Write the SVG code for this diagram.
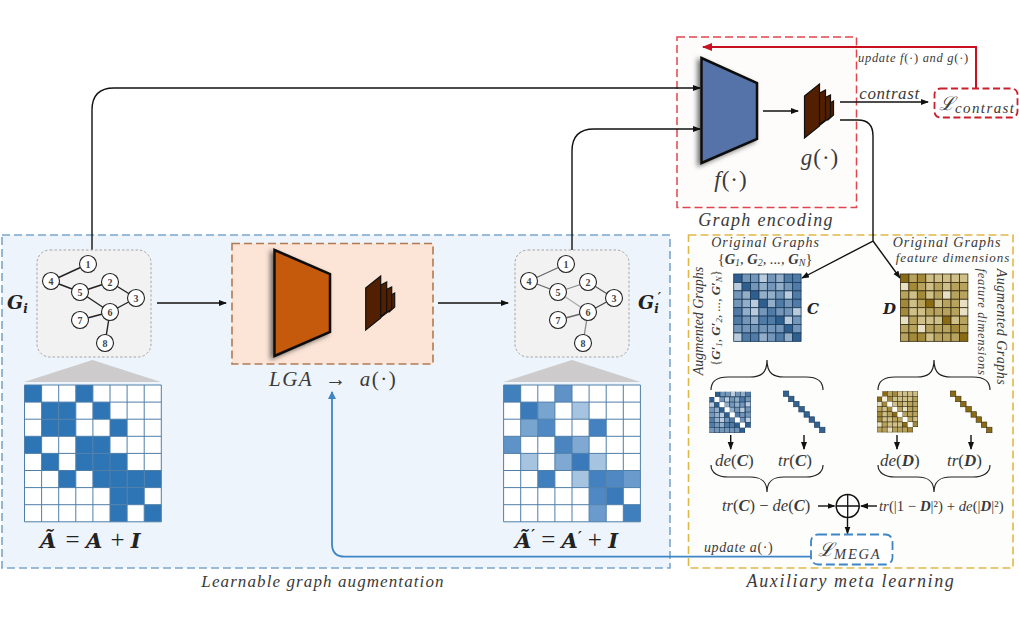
<svg xmlns="http://www.w3.org/2000/svg" xmlns:xlink="http://www.w3.org/1999/xlink" width="1019" height="620" viewBox="0 0 1019 620">
<style>
text{font-family:"Liberation Serif","DejaVu Serif",serif;font-style:italic;fill:#3a3a3a}
.m{text-anchor:middle}
.b{font-family:"DejaVu Serif","Liberation Serif",serif;font-weight:bold;fill:#222}
.o{font-family:"Liberation Serif",serif;font-weight:normal;font-style:normal}
.t{font-style:normal;font-weight:bold;font-size:10px;text-anchor:middle;fill:#444}
.u rect{width:1px;height:1px;stroke-width:.1}
.ln{fill:none;stroke:#111;stroke-width:1.4}
.gbox{fill:#f2f2f2;stroke:#a5a5a5;stroke-width:1;stroke-dasharray:2.5 2}
.n{fill:#fff;stroke:#222;stroke-width:1.1}
.e{stroke:#222;stroke-width:1.4}
.brace{fill:none;stroke:#222;stroke-width:1.2}
.c0{fill:#b9cbdc;stroke:#1d3c5c}.c1{fill:#93aec8;stroke:#1d3c5c}.c2{fill:#7497b9;stroke:#1d3c5c}.c3{fill:#4f7ba6;stroke:#1d3c5c}.c4{fill:#2e5f8f;stroke:#1d3c5c}
.d0{fill:#e8e0c4;stroke:#3d3213}.d1{fill:#cfc08a;stroke:#3d3213}.d2{fill:#b8a35e;stroke:#3d3213}.d3{fill:#a38a3a;stroke:#3d3213}.d4{fill:#8a6a12;stroke:#3d3213}
.a{fill:#2e75b6;stroke:none}
.w{fill:#fff;stroke:none;width:5.1px;height:5.1px}
</style>
<defs>
<marker id="ak" markerWidth="8" markerHeight="7" refX="7" refY="3" orient="auto" markerUnits="userSpaceOnUse"><path d="M0 0L8 3L0 6Z" fill="#111"/></marker>
<marker id="ar" markerWidth="11" markerHeight="8" refX="9" refY="4" orient="auto" markerUnits="userSpaceOnUse"><path d="M0 0L10 4L0 8Z" fill="#c8101e"/></marker>
<marker id="ab" markerWidth="8" markerHeight="8" refX="7" refY="4" orient="auto" markerUnits="userSpaceOnUse"><path d="M0 0L8 4L0 8Z" fill="#3f85c5"/></marker>
<filter id="sh" x="-30%" y="-20%" width="160%" height="140%"><feDropShadow dx="-3" dy="2" stdDeviation="2.5" flood-color="#000" flood-opacity=".55"/></filter>
<clipPath id="cf1"><rect x="709.300" y="397" width="35.700" height="35.700"/></clipPath>
<clipPath id="cb1"><rect x="715" y="391.700" width="35.700" height="35.700"/></clipPath>
<clipPath id="cf2"><rect x="877" y="396.500" width="35.700" height="35.700"/></clipPath>
<clipPath id="cb2"><rect x="882.300" y="391.300" width="35.700" height="35.700"/></clipPath>
<g id="stack" fill="#522000" stroke="#111" stroke-width="1.200">
<polygon points="828,104 833.5,101 833.5,115 828,120"/>
<polygon points="820,100 830.5,95 830.5,117 820,125"/>
<polygon points="812,97 825.5,90 825.5,120 812,130"/>
<polygon points="804.5,96 819.5,84 819.5,126 804.5,138"/>
</g>
<path id="grid" d="M0 0H136.8V136.8H0ZM17.1 0V136.8M34.2 0V136.8M51.3 0V136.8M68.4 0V136.8M85.5 0V136.8M102.6 0V136.8M119.7 0V136.8M0 17.1H136.8M0 34.2H136.8M0 51.3H136.8M0 68.4H136.8M0 85.5H136.8M0 102.6H136.8M0 119.7H136.8" fill="none" stroke="#4f7fa9" stroke-width="1"/>
<g id="mC" class="u">
<rect x="0" y="0" class="c4"/><rect x="1" y="0" class="c2"/><rect x="2" y="0" class="c2"/><rect x="3" y="0" class="c0"/><rect x="4" y="0" class="c2"/><rect x="5" y="0" class="c1"/><rect x="6" y="0" class="c3"/><rect x="7" y="0" class="c3"/>
<rect x="0" y="1" class="c0"/><rect x="1" y="1" class="c4"/><rect x="2" y="1" class="c2"/><rect x="3" y="1" class="c1"/><rect x="4" y="1" class="c2"/><rect x="5" y="1" class="c1"/><rect x="6" y="1" class="c2"/><rect x="7" y="1" class="c3"/>
<rect x="0" y="2" class="c2"/><rect x="1" y="2" class="c1"/><rect x="2" y="2" class="c4"/><rect x="3" y="2" class="c1"/><rect x="4" y="2" class="c1"/><rect x="5" y="2" class="c2"/><rect x="6" y="2" class="c0"/><rect x="7" y="2" class="c3"/>
<rect x="0" y="3" class="c2"/><rect x="1" y="3" class="c1"/><rect x="2" y="3" class="c0"/><rect x="3" y="3" class="c4"/><rect x="4" y="3" class="c1"/><rect x="5" y="3" class="c3"/><rect x="6" y="3" class="c2"/><rect x="7" y="3" class="c3"/>
<rect x="0" y="4" class="c3"/><rect x="1" y="4" class="c1"/><rect x="2" y="4" class="c0"/><rect x="3" y="4" class="c2"/><rect x="4" y="4" class="c3"/><rect x="5" y="4" class="c2"/><rect x="6" y="4" class="c2"/><rect x="7" y="4" class="c0"/>
<rect x="0" y="5" class="c3"/><rect x="1" y="5" class="c2"/><rect x="2" y="5" class="c1"/><rect x="3" y="5" class="c3"/><rect x="4" y="5" class="c3"/><rect x="5" y="5" class="c4"/><rect x="6" y="5" class="c0"/><rect x="7" y="5" class="c2"/>
<rect x="0" y="6" class="c2"/><rect x="1" y="6" class="c2"/><rect x="2" y="6" class="c2"/><rect x="3" y="6" class="c2"/><rect x="4" y="6" class="c2"/><rect x="5" y="6" class="c2"/><rect x="6" y="6" class="c4"/><rect x="7" y="6" class="c2"/>
<rect x="0" y="7" class="c0"/><rect x="1" y="7" class="c3"/><rect x="2" y="7" class="c3"/><rect x="3" y="7" class="c1"/><rect x="4" y="7" class="c2"/><rect x="5" y="7" class="c3"/><rect x="6" y="7" class="c1"/><rect x="7" y="7" class="c4"/>
</g>
<g id="mD" class="u">
<rect x="0" y="0" class="d4"/><rect x="1" y="0" class="d2"/><rect x="2" y="0" class="d3"/><rect x="3" y="0" class="d1"/><rect x="4" y="0" class="d1"/><rect x="5" y="0" class="d1"/><rect x="6" y="0" class="d1"/><rect x="7" y="0" class="d1"/>
<rect x="0" y="1" class="d0"/><rect x="1" y="1" class="d3"/><rect x="2" y="1" class="d2"/><rect x="3" y="1" class="d1"/><rect x="4" y="1" class="d2"/><rect x="5" y="1" class="d1"/><rect x="6" y="1" class="d2"/><rect x="7" y="1" class="d2"/>
<rect x="0" y="2" class="d2"/><rect x="1" y="2" class="d1"/><rect x="2" y="2" class="d3"/><rect x="3" y="2" class="d1"/><rect x="4" y="2" class="d2"/><rect x="5" y="2" class="d0"/><rect x="6" y="2" class="d2"/><rect x="7" y="2" class="d2"/>
<rect x="0" y="3" class="d3"/><rect x="1" y="3" class="d1"/><rect x="2" y="3" class="d2"/><rect x="3" y="3" class="d4"/><rect x="4" y="3" class="d1"/><rect x="5" y="3" class="d2"/><rect x="6" y="3" class="d2"/><rect x="7" y="3" class="d0"/>
<rect x="0" y="4" class="d3"/><rect x="1" y="4" class="d1"/><rect x="2" y="4" class="d1"/><rect x="3" y="4" class="d2"/><rect x="4" y="4" class="d2"/><rect x="5" y="4" class="d2"/><rect x="6" y="4" class="d2"/><rect x="7" y="4" class="d0"/>
<rect x="0" y="5" class="d0"/><rect x="1" y="5" class="d2"/><rect x="2" y="5" class="d1"/><rect x="3" y="5" class="d1"/><rect x="4" y="5" class="d1"/><rect x="5" y="5" class="d4"/><rect x="6" y="5" class="d1"/><rect x="7" y="5" class="d2"/>
<rect x="0" y="6" class="d2"/><rect x="1" y="6" class="d2"/><rect x="2" y="6" class="d0"/><rect x="3" y="6" class="d2"/><rect x="4" y="6" class="d2"/><rect x="5" y="6" class="d2"/><rect x="6" y="6" class="d3"/><rect x="7" y="6" class="d2"/>
<rect x="0" y="7" class="d2"/><rect x="1" y="7" class="d3"/><rect x="2" y="7" class="d3"/><rect x="3" y="7" class="d1"/><rect x="4" y="7" class="d2"/><rect x="5" y="7" class="d2"/><rect x="6" y="7" class="d2"/><rect x="7" y="7" class="d4"/>
</g>
<g id="graph">
<line class="e" x1="88" y1="264" x2="51" y2="281"/><line class="e" x1="51" y1="281" x2="80" y2="292"/><line class="e" x1="80" y1="292" x2="110" y2="282"/><line class="e" x1="110" y1="282" x2="136" y2="298"/><line class="e" x1="136" y1="298" x2="110" y2="312"/><line class="e" x1="80" y1="292" x2="110" y2="312"/><line class="e" x1="110" y1="312" x2="80" y2="320"/><line class="e" x1="110" y1="312" x2="105" y2="343"/>
</g>
<g id="nodes">
<circle class="n" cx="88" cy="264" r="8.5"/><text class="t" x="88" y="267.5">1</text>
<circle class="n" cx="51" cy="281" r="8.5"/><text class="t" x="51" y="284.5">4</text>
<circle class="n" cx="80" cy="292" r="8.5"/><text class="t" x="80" y="295.5">5</text>
<circle class="n" cx="110" cy="282" r="8.5"/><text class="t" x="110" y="285.5">2</text>
<circle class="n" cx="136" cy="298" r="8.5"/><text class="t" x="136" y="301.5">3</text>
<circle class="n" cx="110" cy="312" r="8.5"/><text class="t" x="110" y="315.5">6</text>
<circle class="n" cx="80" cy="320" r="8.5"/><text class="t" x="80" y="323.5">7</text>
<circle class="n" cx="105" cy="343" r="8.5"/><text class="t" x="105" y="346.5">8</text>
</g>
</defs>
<rect width="1019" height="620" fill="#fff"/>
<g id="panel-lga">
<rect x="2" y="235" width="668" height="333" fill="#edf4fb" stroke="#7ba6cb" stroke-width="1.6" stroke-dasharray="8 4"/>
<text class="m" x="323" y="587" font-size="17" letter-spacing="1.1">Learnable graph augmentation</text>
</g>
<g id="panel-encoding">
<rect x="677" y="37" width="179.500" height="170.500" fill="#fdfcfb" stroke="#e0444d" stroke-width="1.5" stroke-dasharray="8 4"/>
<text class="m" x="766" y="226" font-size="18" letter-spacing="1.3">Graph encoding</text>
</g>
<g id="panel-meta">
<rect x="688.500" y="235" width="324.500" height="333" fill="#fdfdfb" stroke="#e0b84a" stroke-width="1.6" stroke-dasharray="8 4"/>
<text class="m" x="851" y="587" font-size="18" letter-spacing="1.6">Auxiliary meta learning</text>
</g>
<g id="connectors" fill="none">
<path class="ln" d="M92 250V110Q92 88 114 88H700" marker-end="url(#ak)"/>
<path class="ln" d="M572 250V151Q572 129 594 129H700" marker-end="url(#ak)"/>
<path class="ln" d="M157 303H226" marker-end="url(#ak)"/>
<path class="ln" d="M438 303H508" marker-end="url(#ak)"/>
<path class="ln" d="M763 111H798" marker-end="url(#ak)"/>
<path class="ln" d="M840 102H928" marker-end="url(#ak)"/>
<path class="ln" d="M840 120H858Q873 120 873 136V241L802 278" marker-end="url(#ak)"/>
<path class="ln" d="M873 241L900 278" marker-end="url(#ak)"/>
<path d="M976 88V47H703" stroke="#c8101e" stroke-width="2" marker-end="url(#ar)"/>
<path d="M811 556.700H345Q332 556.700 332 544V392" stroke="#3f85c5" stroke-width="1.800" marker-end="url(#ab)"/>
<path class="ln" d="M730.700 435V449" marker-end="url(#ak)"/>
<path class="ln" d="M804 435V449" marker-end="url(#ak)"/>
<path class="ln" d="M897 435V449" marker-end="url(#ak)"/>
<path class="ln" d="M971 435V449" marker-end="url(#ak)"/>
<path class="ln" d="M818 506H834.500" marker-end="url(#ak)"/>
<path class="ln" d="M877 506H861" marker-end="url(#ak)"/>
<path class="ln" d="M847.500 518V533.500" marker-end="url(#ak)"/>
</g>
<g id="node-gi">
<rect class="gbox" x="37" y="250" width="114" height="107" rx="13"/>
<use xlink:href="#graph" href="#graph"/>
<use xlink:href="#nodes" href="#nodes"/>
<text class="b" x="7" y="309" font-size="19">G<tspan font-size="12" dy="4">i</tspan></text>
</g>
<g id="node-gi-prime">
<rect class="gbox" x="515" y="250" width="114" height="107" rx="13"/>
<g transform="translate(478 0)">
<g stroke-width="1.300">
<line x1="88" y1="264" x2="51" y2="281" stroke="#666"/><line x1="51" y1="281" x2="80" y2="292" stroke="#666"/><line x1="80" y1="292" x2="110" y2="282" stroke="#888"/><line x1="110" y1="282" x2="136" y2="298" stroke="#555"/><line x1="136" y1="298" x2="110" y2="312" stroke="#444"/><line x1="80" y1="292" x2="110" y2="312" stroke="#aaa"/><line x1="110" y1="312" x2="80" y2="320" stroke="#666"/><line x1="110" y1="312" x2="105" y2="343" stroke="#888"/>
</g>
<use xlink:href="#nodes" href="#nodes"/>
</g>
<text class="b" x="638" y="309" font-size="19">G<tspan font-size="12" dy="4">i</tspan><tspan font-size="12" dx="-1" dy="-11">′</tspan></text>
</g>
<g id="matrix-a">
<polygon points="92.500,360 24,382 161,382" fill="#cdcbcb"/>
<g transform="translate(24.500 385)">
<rect width="136.800" height="136.800" fill="#fff"/>
<g class="u" transform="scale(17.1)">
<rect class="a" x="0" y="0"/><rect class="a" x="3" y="0"/>
<rect class="a" x="1" y="1"/><rect class="a" x="2" y="1"/><rect class="a" x="4" y="1"/>
<rect class="a" x="1" y="2"/><rect class="a" x="2" y="2"/><rect class="a" x="5" y="2"/>
<rect class="a" x="0" y="3"/><rect class="a" x="3" y="3"/><rect class="a" x="4" y="3"/>
<rect class="a" x="1" y="4"/><rect class="a" x="3" y="4"/><rect class="a" x="4" y="4"/><rect class="a" x="5" y="4"/>
<rect class="a" x="2" y="5"/><rect class="a" x="4" y="5"/><rect class="a" x="5" y="5"/><rect class="a" x="6" y="5"/><rect class="a" x="7" y="5"/>
<rect class="a" x="5" y="6"/><rect class="a" x="6" y="6"/>
<rect class="a" x="5" y="7"/><rect class="a" x="7" y="7"/>
</g>
<use xlink:href="#grid" href="#grid"/>
</g>
<text class="b" x="40" y="548" font-size="21">Ã<tspan class="o" font-size="25" dx="3"> = </tspan>A<tspan class="o" font-size="25" dx="2"> + </tspan>I</text>
</g>
<g id="matrix-a-prime">
<polygon points="572,360 503.500,382 640.500,382" fill="#cdcbcb"/>
<g transform="translate(503.600 385)">
<rect width="136.800" height="136.800" fill="#fff"/>
<g class="u" transform="scale(17.1)">
<rect x="0" y="0" style="fill:#4080bd;stroke:none"/><rect x="3" y="0" style="fill:#5f93c8;stroke:none"/>
<rect x="1" y="1" style="fill:#3a7abb;stroke:none"/><rect x="2" y="1" style="fill:#78a5d0;stroke:none"/><rect x="4" y="1" style="fill:#a6c3e0;stroke:none"/>
<rect x="1" y="2" style="fill:#78a5d0;stroke:none"/><rect x="2" y="2" style="fill:#4f88c2;stroke:none"/><rect x="5" y="2" style="fill:#4381c0;stroke:none"/>
<rect x="0" y="3" style="fill:#5f93c8;stroke:none"/><rect x="3" y="3" style="fill:#4a85c0;stroke:none"/><rect x="4" y="3" style="fill:#7fa9d2;stroke:none"/>
<rect x="1" y="4" style="fill:#a6c3e0;stroke:none"/><rect x="3" y="4" style="fill:#7fa9d2;stroke:none"/><rect x="4" y="4" style="fill:#3a7abb;stroke:none"/><rect x="5" y="4" style="fill:#a6c3e0;stroke:none"/>
<rect x="2" y="5" style="fill:#3f7fbe;stroke:none"/><rect x="4" y="5" style="fill:#a6c3e0;stroke:none"/><rect x="5" y="5" style="fill:#4381c0;stroke:none"/><rect x="6" y="5" style="fill:#4f88c2;stroke:none"/><rect x="7" y="5" style="fill:#6b9bcc;stroke:none"/>
<rect x="5" y="6" style="fill:#4f88c2;stroke:none"/><rect x="6" y="6" style="fill:#3a7abb;stroke:none"/>
<rect x="5" y="7" style="fill:#6b9bcc;stroke:none"/><rect x="7" y="7" style="fill:#3f7fbe;stroke:none"/>
</g>
<use xlink:href="#grid" href="#grid"/>
</g>
<text class="b" x="515" y="548" font-size="21">Ã<tspan font-size="14" dy="-8">′</tspan><tspan class="o" font-size="25" dy="8"> = </tspan>A<tspan font-size="14" dy="-6">′</tspan><tspan class="o" font-size="25" dy="6"> + </tspan>I</text>
</g>
<g id="node-lga">
<rect x="232" y="243.500" width="201" height="120.500" fill="#fce5d6" stroke="#b07a55" stroke-width="1.600" stroke-dasharray="8 4"/>
<polygon points="274.500,250 330,274 330,332 274.500,356" fill="#c55a11" stroke="#111" stroke-width="2.500" filter="url(#sh)"/>
<use xlink:href="#stack" href="#stack" transform="translate(-438.800 192)"/>
<text x="269" y="385.500" font-size="21" letter-spacing="1.500">LGA<tspan font-style="normal" dx="12">→</tspan><tspan dx="12">a</tspan><tspan font-style="normal">(·)</tspan></text>
</g>
<g id="node-f">
<polygon points="701.500,58 757,83 757,139 701.500,163" fill="#5673a9" stroke="#111" stroke-width="2.500" filter="url(#sh)"/>
<text class="m" x="731" y="187" font-size="23" letter-spacing="1">f<tspan font-style="normal">(·)</tspan></text>
</g>
<g id="node-g">
<use xlink:href="#stack" href="#stack"/>
<text class="m" x="820" y="165" font-size="23" letter-spacing="1">g<tspan font-style="normal">(·)</tspan></text>
</g>
<g id="node-contrast">
<rect x="934.500" y="88.500" width="83" height="29" rx="6" fill="#fff" stroke="#c8202e" stroke-width="1.800" stroke-dasharray="7 3.500"/>
<text x="939" y="110" font-size="19">ℒ<tspan font-size="15" dy="3" letter-spacing="1.400">contrast</tspan></text>
<text class="m" x="889.500" y="99" font-size="17" letter-spacing=".6">contrast</text>
<text x="858" y="62" font-size="12.500" letter-spacing=".7">update f<tspan font-style="normal">(·)</tspan> and g<tspan font-style="normal">(·)</tspan></text>
</g>
<g id="labels-meta">
<text class="m" x="765.500" y="247" font-size="14" letter-spacing="1">Original Graphs</text>
<text class="m" x="765" y="264" font-size="14.500"><tspan font-style="normal">{</tspan><tspan font-weight="bold">G</tspan><tspan font-size="10" dy="2">1</tspan><tspan dy="-2">, </tspan><tspan font-weight="bold">G</tspan><tspan font-size="10" dy="2">2</tspan><tspan dy="-2">, ..., </tspan><tspan font-weight="bold">G</tspan><tspan font-size="10" dy="2">N</tspan><tspan dy="-2" font-style="normal">}</tspan></text>
<text class="m" x="947" y="247" font-size="14" letter-spacing="1">Original Graphs</text>
<text class="m" x="953" y="262" font-size="13" letter-spacing=".9">feature dimensions</text>
<text class="m" transform="translate(703 321) rotate(-90)" font-size="14">Augmented Graphs</text>
<text class="m" transform="translate(720 318) rotate(-90)" font-size="13"><tspan font-style="normal">{</tspan><tspan font-weight="bold">G′</tspan><tspan font-size="9" dy="2">1</tspan><tspan dy="-2">, </tspan><tspan font-weight="bold">G′</tspan><tspan font-size="9" dy="2">2</tspan><tspan dy="-2">, ..., </tspan><tspan font-weight="bold">G′</tspan><tspan font-size="9" dy="2">N</tspan><tspan dy="-2" font-style="normal">}</tspan></text>
<text class="m" transform="translate(997 327) rotate(90)" font-size="14" letter-spacing=".5">Augmented Graphs</text>
<text class="m" transform="translate(978 322) rotate(90)" font-size="12.500" letter-spacing=".7">feature dimensions</text>
<text class="b" x="807" y="314" font-size="15">C</text>
<text class="b" x="883" y="314" font-size="15">D</text>
</g>
<g id="node-c">
<use xlink:href="#mC" href="#mC" transform="translate(733.700 274) scale(8.42)"/>
<path class="brace" d="M711 390C711 380 718 377 728 377H750C760 377 767 374 767 360C767 374 774 377 784 377H806C816 377 823 380 823 390"/>
<g clip-path="url(#cb1)"><use xlink:href="#mC" href="#mC" transform="translate(715 391.700) scale(5.1)"/></g>
<g clip-path="url(#cf1)"><use xlink:href="#mC" href="#mC" transform="translate(709.300 397) scale(5.1)"/></g>
<rect class="w" x="714.400" y="397"/><rect class="w" x="719.500" y="402.100"/><rect class="w" x="724.600" y="407.200"/><rect class="w" x="729.700" y="412.300"/><rect class="w" x="734.800" y="417.400"/><rect class="w" x="739.900" y="422.500"/>
<g fill="#33628f" stroke="#1d3c5c" stroke-width=".6"><rect x="783.300" y="391" width="5.500" height="5.500"/><rect x="788.500" y="396.200" width="5.500" height="5.500"/><rect x="793.600" y="401.300" width="5.500" height="5.500"/><rect x="798.800" y="406.500" width="5.500" height="5.500"/><rect x="804" y="411.700" width="5.500" height="5.500"/><rect x="809.100" y="416.800" width="5.500" height="5.500"/><rect x="814.300" y="422" width="5.500" height="5.500"/><rect x="819.500" y="427.200" width="5.500" height="5.500"/></g>
<text x="715" y="466" font-size="17">de<tspan font-style="normal">(</tspan><tspan font-weight="bold">C</tspan><tspan font-style="normal">)</tspan></text>
<text x="778" y="466" font-size="17">tr<tspan font-style="normal">(</tspan><tspan font-weight="bold">C</tspan><tspan font-style="normal">)</tspan></text>
<path class="brace" d="M711 465C711 473 718 477 728 477H750C760 477 767 480 767 492C767 480 774 477 784 477H806C816 477 823 473 823 465"/>
</g>
<g id="node-d">
<use xlink:href="#mD" href="#mD" transform="translate(900.500 274) scale(8.42)"/>
<path class="brace" d="M878 390C878 380 885 377 895 377H917C927 377 934 374 934 360C934 374 941 377 951 377H973C983 377 990 380 990 390"/>
<g clip-path="url(#cb2)"><use xlink:href="#mD" href="#mD" transform="translate(882.300 391.300) scale(5.1)"/></g>
<g clip-path="url(#cf2)"><use xlink:href="#mD" href="#mD" transform="translate(877 396.500) scale(5.1)"/></g>
<rect class="w" x="882.100" y="396.500" style="fill:#f3efe2"/><rect class="w" x="887.200" y="401.600"/><rect class="w" x="892.300" y="406.700"/><rect class="w" x="897.400" y="411.800"/><rect class="w" x="902.500" y="416.900"/><rect class="w" x="907.600" y="422"/>
<g fill="#8a6a12" stroke="#3d3213" stroke-width=".6"><rect x="950.300" y="391" width="5.500" height="5.500"/><rect x="955.500" y="396.200" width="5.500" height="5.500"/><rect x="960.600" y="401.300" width="5.500" height="5.500"/><rect x="965.800" y="406.500" width="5.500" height="5.500"/><rect x="971" y="411.700" width="5.500" height="5.500"/><rect x="976.100" y="416.800" width="5.500" height="5.500"/><rect x="981.300" y="422" width="5.500" height="5.500"/><rect x="986.500" y="427.200" width="5.500" height="5.500"/></g>
<text x="880" y="466" font-size="17">de<tspan font-style="normal">(</tspan><tspan font-weight="bold">D</tspan><tspan font-style="normal">)</tspan></text>
<text x="947" y="466" font-size="17">tr<tspan font-style="normal">(</tspan><tspan font-weight="bold">D</tspan><tspan font-style="normal">)</tspan></text>
<path class="brace" d="M878 465C878 473 885 477 895 477H917C927 477 934 480 934 492C934 480 941 477 951 477H973C983 477 990 473 990 465"/>
</g>
<g id="node-sum">
<circle cx="847.700" cy="506" r="11.500" fill="#fff" stroke="#111" stroke-width="1.500"/>
<path d="M836.200 506H859.200M847.700 494.500V517.500" stroke="#111" stroke-width="1.300"/>
<text x="722" y="511" font-size="16.500">tr<tspan font-style="normal">(</tspan><tspan font-weight="bold">C</tspan><tspan font-style="normal">) − </tspan>de<tspan font-style="normal">(</tspan><tspan font-weight="bold">C</tspan><tspan font-style="normal">)</tspan></text>
<text x="879" y="511" font-size="14.800">tr<tspan font-style="normal">(|1 − </tspan><tspan font-weight="bold">D</tspan><tspan font-style="normal">|²) + </tspan>de<tspan font-style="normal">(|</tspan><tspan font-weight="bold">D</tspan><tspan font-style="normal">|²)</tspan></text>
</g>
<g id="node-mega">
<rect x="811" y="534.500" width="81.500" height="30" rx="7" fill="#fff" stroke="#3f85c5" stroke-width="1.800" stroke-dasharray="9 4"/>
<text x="818" y="556" font-size="19">ℒ<tspan font-size="14.500" dy="3" letter-spacing="1.800">MEGA</tspan></text>
<text x="704" y="552" font-size="14" letter-spacing=".6">update a<tspan font-style="normal">(·)</tspan></text>
</g>
</svg>
